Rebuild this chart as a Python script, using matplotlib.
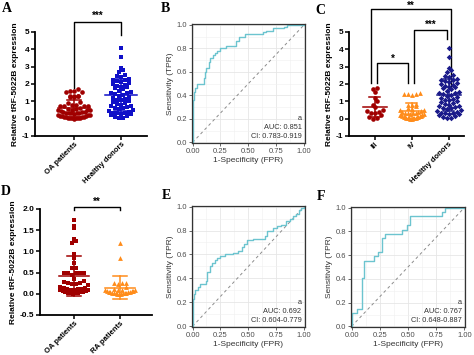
import numpy as np
import matplotlib
matplotlib.use('Agg')
import matplotlib.pyplot as plt
from matplotlib.ticker import MultipleLocator

plt.rcParams['font.family'] = ['Liberation Sans', 'DejaVu Sans']

# ---------- data ----------
# panel A
a_oa = [1.72, 1.6, 1.55, 1.55, 1.58, 1.3, 1.3, 1.28, 1.25, 1.32, 1.27, 0.95, 0.9, 0.8, 0.75, 0.72,
        0.7, 0.78, 0.74, 0.6, 0.55, 0.52, 0.5, 0.48, 0.45, 0.5, 0.53, 0.4, 0.38, 0.36, 0.35, 0.33,
        0.3, 0.3, 0.28, 0.35, 0.22, 0.2, 0.18, 0.15, 0.15, 0.12, 0.1, 0.08, 0.06, 0.05,
        0.03, 0.02, 0.0, 0.01, 0.2, 0.12, 0.04]
healthy = [4.1, 3.55, 2.9, 2.8, 2.7, 2.5, 2.45, 2.3, 2.25, 2.2, 2.15, 2.1, 2.05, 2.0, 1.95,
           1.9, 1.8, 1.75, 1.7, 1.6, 1.55, 1.5, 1.45, 1.4, 1.35, 1.3, 1.25, 1.2, 1.1, 1.05,
           1.0, 0.95, 0.9, 0.85, 0.8, 0.75, 0.7, 0.65, 0.6, 0.55, 0.5, 0.45, 0.4, 0.35,
           0.33, 0.3, 0.28, 0.25, 0.2, 0.15, 0.1, 0.05, 0.02, 1.15, 0.62, 1.85, 2.4]
# panel C
c_iii = [1.75, 1.7, 1.55, 1.2, 1.0, 0.8, 0.65, 0.5, 0.45, 0.4, 0.35, 0.3, 0.2, 0.1, 0.05, 0.0]
c_iv = [1.5, 1.4, 1.4, 1.38, 1.42, 0.85, 0.8, 0.8, 0.75, 0.6, 0.55, 0.5, 0.5, 0.45, 0.4,
        0.38, 0.35, 0.32, 0.3, 0.3, 0.28, 0.25, 0.22, 0.2, 0.2, 0.18, 0.15, 0.12, 0.1,
        0.1, 0.08, 0.06, 0.05, 0.04, 0.03, 0.02, 0.01, 0.0, 0.0, 0.15]
# panel D
d_oa = [1.75, 1.6, 1.55, 1.3, 1.25, 1.2, 0.95, 0.85, 0.72, 0.6, 0.6, 0.5, 0.5, 0.45, 0.5,
        0.48, 0.5, 0.35, 0.3, 0.28, 0.25, 0.22, 0.2, 0.25, 0.22, 0.15, 0.14, 0.12, 0.1,
        0.1, 0.08, 0.08, 0.07, 0.06, 0.05, 0.05, 0.04, 0.03, 0.02, 0.02, 0.01, 0.0, 0.12,
        0.11, 0.13]
d_ra = [1.2, 0.85, 0.25, 0.25, 0.25, 0.22, 0.15, 0.12, 0.1, 0.1, 0.08, 0.07, 0.06, 0.05,
        0.05, 0.04, 0.03, 0.03, 0.02, 0.02, 0.01, 0.01, 0.0, 0.0, 0.0, 0.06, 0.08, 0.04]

# ROC curves (step corners)
fpr_b = [0, 0, 0.01, 0.02, 0.04, 0.08, 0.1, 0.11, 0.12, 0.15, 0.16, 0.18, 0.2, 0.22, 0.25,
         0.3, 0.38, 0.39, 0.42, 0.47, 0.6, 0.63, 0.66, 0.72, 0.82, 0.85, 1.0]
tpr_b = [0, 0.36, 0.43, 0.46, 0.5, 0.5, 0.55, 0.6, 0.63, 0.68, 0.72, 0.74, 0.76, 0.78, 0.8,
         0.82, 0.82, 0.86, 0.9, 0.92, 0.92, 0.94, 0.95, 0.97, 0.98, 1.0, 1.0]
fpr_e = [0, 0, 0.01, 0.02, 0.045, 0.07, 0.12, 0.13, 0.16, 0.17, 0.2, 0.22, 0.25, 0.29, 0.36,
         0.41, 0.44, 0.46, 0.49, 0.54, 0.65, 0.67, 0.72, 0.76, 0.79, 0.84, 0.87, 0.9, 0.93,
         0.95, 0.97, 1.0]
tpr_e = [0, 0.23, 0.27, 0.3, 0.33, 0.35, 0.38, 0.45, 0.5, 0.53, 0.55, 0.57, 0.59, 0.6, 0.61,
         0.63, 0.66, 0.69, 0.72, 0.73, 0.75, 0.8, 0.82, 0.84, 0.85, 0.88, 0.9, 0.92, 0.94,
         0.97, 0.99, 1.0]
fpr_f = [0, 0, 0.05, 0.09, 0.11, 0.2, 0.23, 0.27, 0.3, 0.45, 0.49, 0.52, 0.8, 0.83, 1.0]
tpr_f = [0, 0.11, 0.15, 0.41, 0.55, 0.59, 0.63, 0.74, 0.78, 0.81, 0.85, 0.93, 0.96, 1.0, 1.0]

RED = '#a00000'
BLUE = '#1010c8'
NAVY = '#1a1a8a'
ORANGE = '#ff8c1a'
CYAN = '#6cc4cf'

fig = plt.figure(figsize=(4.74, 3.55), dpi=100)


def row_scatter_x(ax, pos, vals, rowh=4.5, step=4.0, halfw=14):
    # GraphPad-like layout: points binned into rows and spread sideways
    vals = np.asarray(vals, float)
    pts = ax.transData.transform(np.column_stack([np.full(len(vals), pos), vals]))
    bins = np.round(pts[:, 1] / rowh)
    out = pts.copy()
    for b in np.unique(bins):
        idx = np.where(bins == b)[0]
        idx = idx[np.argsort(vals[idx])]
        n = len(idx)
        sp = step if n <= 1 else min(step, 2 * halfw / (n - 1))
        offs = (np.arange(n) - (n - 1) / 2) * sp
        offs = offs[np.argsort(np.abs(offs), kind='stable')]
        out[idx, 0] = pts[idx, 0] + offs
    return ax.transData.inverted().transform(out)[:, 0]


def dot_panel(ax, groups, xlim, ylim, yticks, ylabels):
    ax.set_xlim(*xlim)
    ax.set_ylim(*ylim)
    for s in ['top', 'right']:
        ax.spines[s].set_visible(False)
    for s in ['left', 'bottom']:
        ax.spines[s].set_linewidth(1.3)
    ax.set_yticks(yticks)
    ax.set_yticklabels(ylabels, fontweight='bold')
    ax.tick_params(direction='out', length=3, width=1.1, labelsize=6, pad=1)
    names = []
    for i, (name, vals, marker, color, ms, halfw) in enumerate(groups):
        xs = row_scatter_x(ax, i, vals, halfw=halfw)
        ax.scatter(xs, vals, marker=marker, s=ms, color=color, linewidths=0, zorder=3)
        m = np.mean(vals)
        sd = np.std(vals, ddof=1)
        ax.plot([i - 0.33, i + 0.33], [m, m], color=color, lw=1.1, zorder=4)
        ax.plot([i, i], [m - sd, m + sd], color=color, lw=1.1, zorder=4)
        ax.plot([i - 0.15, i + 0.15], [m + sd, m + sd], color=color, lw=1.1, zorder=4)
        ax.plot([i - 0.15, i + 0.15], [m - sd, m - sd], color=color, lw=1.1, zorder=4)
        names.append(name)
    ax.set_xticks(range(len(names)))
    ax.set_xticklabels(names, rotation=45, ha='right', rotation_mode='anchor',
                       fontsize=5.5, fontweight='bold')
    ax.tick_params(axis='x', pad=0.5)
    ax.set_ylabel('Relative tRF-5022B expression', fontsize=6.0, fontweight='bold', labelpad=2)


def bracket(ax, x0, x1, y, y0, y1, stars, ty, va='center'):
    ax.plot([x0, x0, x1, x1], [y0, y, y, y1], color='black', lw=1.0, clip_on=False)
    ax.text((x0 + x1) / 2, ty, stars, ha='center', va=va, fontsize=7,
            fontweight='bold', clip_on=False)


def roc_panel(ax, fpr, tpr, auc, ci):
    ax.set_xlim(-0.005, 1.005)
    ax.set_ylim(-0.005, 1.005)
    ax.xaxis.set_minor_locator(MultipleLocator(0.125))
    ax.yaxis.set_minor_locator(MultipleLocator(0.1))
    ax.set_xticks([0, 0.25, 0.5, 0.75, 1.0])
    ax.set_xticklabels(['0.00', '0.25', '0.50', '0.75', '1.00'])
    ax.set_yticks([0, 0.2, 0.4, 0.6, 0.8, 1.0])
    ax.set_yticklabels(['0.0', '0.2', '0.4', '0.6', '0.8', '1.0'])
    ax.grid(which='major', color='#e6e6e6', lw=0.6)
    ax.grid(which='minor', color='#f0f0f0', lw=0.4)
    ax.set_axisbelow(True)
    ax.tick_params(which='major', length=2, width=0.6, labelsize=5.5, colors='#4d4d4d', pad=1.5)
    ax.tick_params(which='minor', length=0)
    for s in ax.spines.values():
        s.set_color('#333333')
        s.set_linewidth(0.9)
    ax.plot([0, 1], [0, 1], ls=(0, (3, 3)), color='#8c8c8c', lw=0.7)
    ax.plot(fpr, tpr, drawstyle='steps-post', color=CYAN, lw=1.0)
    ax.text(0.975, 0.2, 'a', ha='right', va='center', fontsize=5.3, color='#333333')
    ax.text(0.975, 0.125, 'AUC: ' + auc, ha='right', va='center', fontsize=5.3, color='#333333')
    ax.text(0.975, 0.05, 'CI: ' + ci, ha='right', va='center', fontsize=5.3, color='#333333')
    ax.set_xlabel('1-Specificity (FPR)', fontsize=6, color='#333333', labelpad=1.5)
    ax.set_ylabel('Sensitivity (TPR)', fontsize=6, color='#333333', labelpad=2)


# ---------- panel A ----------
axA = fig.add_axes([0.0738, 0.617, 0.236, 0.293])
dot_panel(axA, [('OA patients', a_oa, 'o', RED, 11, 16),
                ('Healthy donors', healthy, 's', BLUE, 12, 12)],
          (-0.83, 1.55), (-1, 5), [-1, 0, 1, 2, 3, 4, 5],
          ['-1', '0', '1', '2', '3', '4', '5'])
bracket(axA, 0, 1, 5.58, 1.75, 4.8, '***', 5.95)

# ---------- panel C ----------
axC = fig.add_axes([0.736, 0.617, 0.243, 0.293])
dot_panel(axC, [('III', c_iii, 'o', RED, 11, 12),
                ('IV', c_iv, '^', ORANGE, 12, 12),
                ('Healthy donors', healthy, 'D', NAVY, 8, 12)],
          (-0.70, 2.41), (-1, 5), [-1, 0, 1, 2, 3, 4, 5],
          ['-1', '0', '1', '2', '3', '4', '5'])
bracket(axC, 0.05, 0.9, 3.2, 2.05, 2.05, '*', 3.45)
bracket(axC, 1.05, 1.95, 5.1, 2.05, 4.6, '***', 5.4)
bracket(axC, -0.1, 2.05, 6.3, 2.05, 1.85, '**', 6.33, va='baseline')

# ---------- panel D ----------
axD = fig.add_axes([0.0844, 0.1127, 0.236, 0.2986])
dot_panel(axD, [('OA patients', d_oa, 's', RED, 12, 14),
                ('RA patients', d_ra, '^', ORANGE, 12, 15)],
          (-0.74, 1.69), (-0.5, 2.0), [-0.5, 0.0, 0.5, 1.0, 1.5, 2.0],
          ['-0.5', '0.0', '0.5', '1.0', '1.5', '2.0'])
bracket(axD, 0, 1, 2.05, 1.98, 1.98, '**', 2.16)

# ---------- ROC panels ----------
axB = fig.add_axes([0.405, 0.597, 0.238, 0.335])
roc_panel(axB, fpr_b, tpr_b, '0.851', '0.783-0.919')
axE = fig.add_axes([0.405, 0.0789, 0.238, 0.341])
roc_panel(axE, fpr_e, tpr_e, '0.692', '0.604-0.779')
axF = fig.add_axes([0.7405, 0.0789, 0.2405, 0.338])
roc_panel(axF, fpr_f, tpr_f, '0.767', '0.648-0.887')

# panel letters
for lab, x, y in [('A', 2, 9), ('B', 161, 9), ('C', 315, 10),
                  ('D', 1, 192), ('E', 162, 195), ('F', 317, 197)]:
    fig.text(x / 474, 1 - y / 355, lab, fontsize=10, fontweight='bold',
             family='Liberation Serif', va='center', ha='left')

fig.savefig('out.png', dpi=100)
